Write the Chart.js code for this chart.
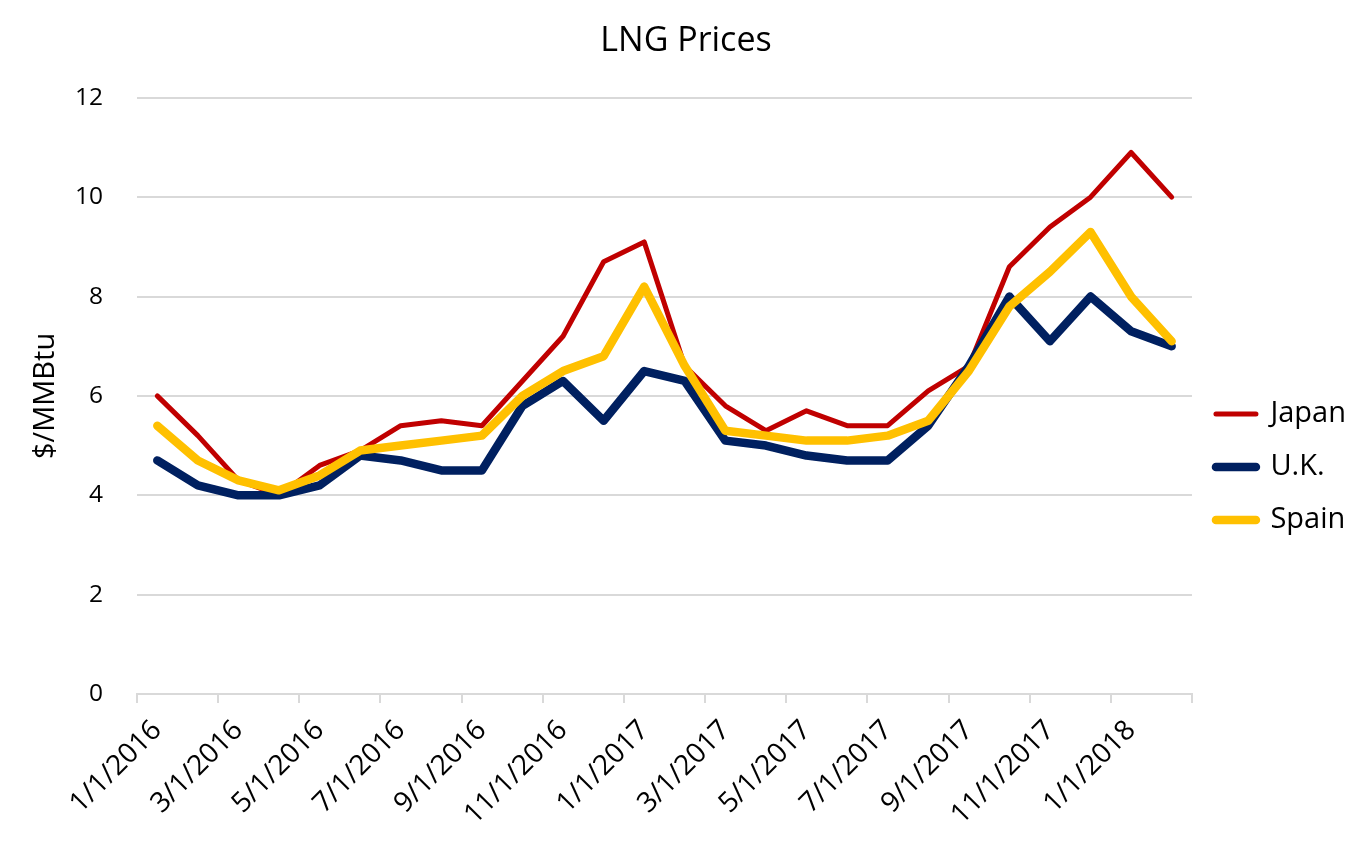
<!DOCTYPE html>
<html>
<head>
<meta charset="utf-8">
<title>LNG Prices</title>
<script src="https://cdn.jsdelivr.net/npm/chart.js"></script>
<style>
  html,body{margin:0;padding:0;background:#fff}
  #wrap{width:1372px;height:860px;position:relative}
</style>
</head>
<body>
<div id="wrap"><canvas id="chart-lng"></canvas></div>
<script>
'use strict';

// ── data ──
const months = ['1/1/2016','2/1/2016','3/1/2016','4/1/2016','5/1/2016','6/1/2016','7/1/2016','8/1/2016','9/1/2016','10/1/2016','11/1/2016','12/1/2016',
  '1/1/2017','2/1/2017','3/1/2017','4/1/2017','5/1/2017','6/1/2017','7/1/2017','8/1/2017','9/1/2017','10/1/2017','11/1/2017','12/1/2017',
  '1/1/2018','2/1/2018'];
const japan = [6.0,5.2,4.3,4.0,4.6,4.9,5.4,5.5,5.4,6.3,7.2,8.7,9.1,6.6,5.8,5.3,5.7,5.4,5.4,6.1,6.6,8.6,9.4,10.0,10.9,10.0];
const uk    = [4.7,4.2,4.0,4.0,4.2,4.8,4.7,4.5,4.5,5.8,6.3,5.5,6.5,6.3,5.1,5.0,4.8,4.7,4.7,5.4,6.6,8.0,7.1,8.0,7.3,7.0];
const spain = [5.4,4.7,4.3,4.1,4.4,4.9,5.0,5.1,5.2,6.0,6.5,6.8,8.2,6.6,5.3,5.2,5.1,5.1,5.2,5.5,6.5,7.8,8.5,9.3,8.0,7.1];
const yTicks = [0,2,4,6,8,10,12];

const FONT = "'Open Sans', 'Noto Sans', sans-serif";
const GRID = '#d9d9d9';

function lineSet(label, data, color, width, order) {
  return {label, data, borderColor:color, backgroundColor:color, borderWidth:width, order,
    pointRadius:0, pointHoverRadius:0, tension:0, borderJoinStyle:'round', borderCapStyle:'round', fill:false};
}

new Chart(document.getElementById('chart-lng'), {
  type:'line',
  data:{
    labels:months,
    datasets:[
      lineSet('Japan', japan, '#C00000', 5, 3),
      lineSet('U.K.',  uk,    '#002060', 8.5, 2),
      lineSet('Spain', spain, '#FFC000', 8.5, 1),
    ]
  },
  options:{
    responsive:true, maintainAspectRatio:false, animation:false,
    layout:{padding:{left:16, right:16, top:0, bottom:0}},
    plugins:{
      title:{display:true, text:'LNG Prices', color:'#000', font:{family:FONT, size:34, weight:'normal'}, padding:{top:21, bottom:36}},
      tooltip:{enabled:false},
      legend:{
        position:'right', align:'center',
        // empty title only pushes the items down to where Excel centres them
        title:{display:true, text:'', font:{size:10}, padding:{top:31, bottom:31}},
        labels:{
          color:'#000', font:{family:FONT, size:29}, padding:24,
          usePointStyle:true, pointStyleWidth:40,
          generateLabels:chart=>chart.data.datasets.map((ds,i)=>({
            text:ds.label, fontColor:'#000', strokeStyle:ds.borderColor, fillStyle:ds.borderColor,
            lineWidth:ds.borderWidth, lineCap:'round', pointStyle:'line', hidden:false, datasetIndex:i
          }))
        }
      }
    },
    scales:{
      x:{
        offset:true,
        afterFit:s=>{ s.height = 166; },
        border:{color:GRID, width:2},
        grid:{
          offset:true, drawOnChartArea:false, drawTicks:true, tickLength:9, lineWidth:2,
          color:c=>(c.index===undefined || c.index%2===0) ? GRID : 'rgba(0,0,0,0)'
        },
        ticks:{
          autoSkip:false, minRotation:45, maxRotation:45, padding:11,
          color:'#000', font:{family:FONT, size:28},
          callback:(v,i)=>i%2===0 ? months[i] : ''
        }
      },
      y:{
        min:0, max:12,
        afterFit:s=>{ s.width = 121; },
        afterBuildTicks:s=>{ s.ticks = yTicks.map(v=>({value:v})); },
        border:{display:false},
        grid:{color:GRID, lineWidth:2, drawTicks:false},
        ticks:{padding:34, color:'#000', font:{family:FONT, size:24.5}},
        title:{display:true, text:'$/MMBtu', color:'#000', font:{family:FONT, size:29}, padding:{top:12, bottom:0}}
      }
    }
  }
});
</script>
</body>
</html>
